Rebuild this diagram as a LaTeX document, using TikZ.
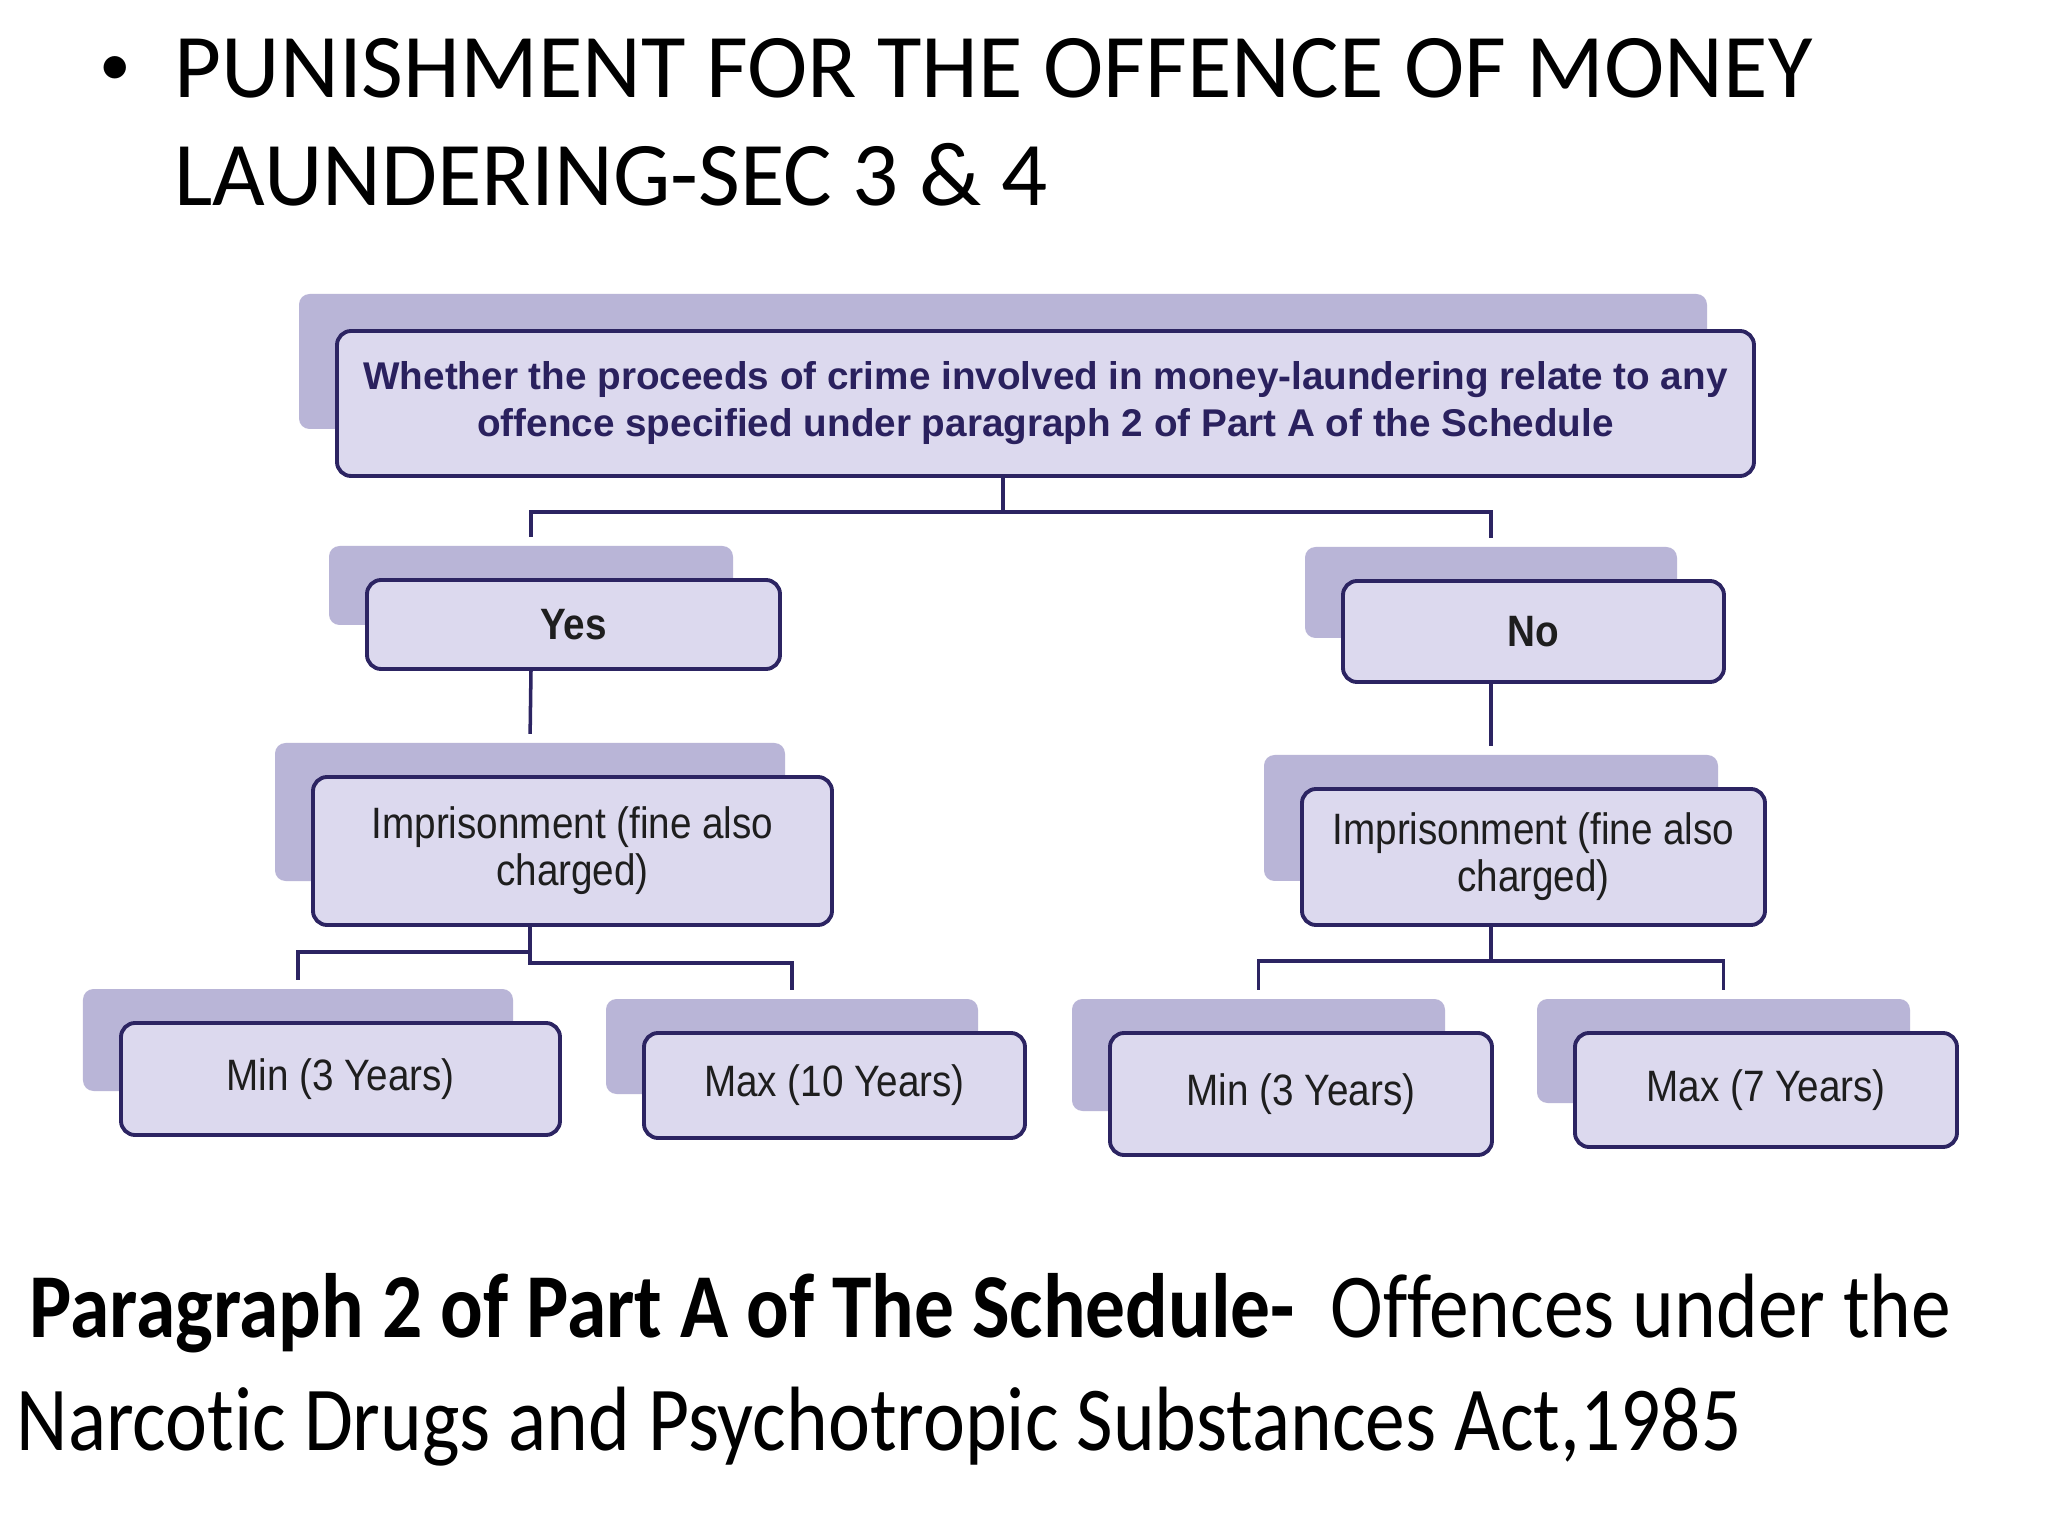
\documentclass[tikz,border=0pt]{standalone}
\usepackage{fontspec}
\setmainfont[Ligatures=NoCommon]{Carlito}
\newfontfamily\notefont[FakeStretch=0.87,Ligatures=NoCommon]{Carlito}
\newfontfamily\boxfont[FakeStretch=0.88]{Liberation Sans}
\newfontfamily\headfont{Liberation Sans}
\usetikzlibrary{calc,positioning}

\definecolor{shadowfill}{HTML}{B9B5D7}
\definecolor{boxfill}{HTML}{DCD9EE}
\definecolor{boxline}{HTML}{2C2462}
\definecolor{headtext}{HTML}{2A215E}
\definecolor{plaintext}{HTML}{1E1E1E}

\tikzset{
  back/.style={rectangle,rounded corners=3pt,fill=shadowfill,draw=none,inner sep=0pt},
  front/.style={rectangle,rounded corners=4pt,fill=boxfill,draw=boxline,line width=1.1pt,inner sep=0pt,align=center},
  link/.style={draw=boxline,line width=1pt,shorten >=0.085cm},
}

\begin{document}
\begin{tikzpicture}
  \fill[white] (0,0) rectangle (20.48,-15.36);
  \useasboundingbox (0,0) rectangle (20.48,-15.36);

  % heading
  \node (bullet) [anchor=base,inner sep=0pt,font=\fontsize{18}{22}\selectfont] at (1.15,-0.86) {\textbullet};
  \node (title_1) [anchor=base west,inner sep=0pt,font=\fontsize{25.9}{30}\selectfont] at (1.74,-0.98) {PUNISHMENT FOR THE OFFENCE OF MONEY};
  \node (title_2) [anchor=base west,inner sep=0pt,font=\fontsize{25.9}{30}\selectfont] at (1.74,-2.06) {LAUNDERING-SEC 3 \& 4};

  % question box
  \node (q_sh) [back,minimum width=14.08cm,minimum height=1.35cm] at (10.03,-3.615) {};
  \node (q) [front,minimum width=14.17cm,minimum height=1.45cm,text=headtext,font=\headfont\bfseries\fontsize{11}{13.4}\selectfont] at ($(q_sh)+(0.425,-0.42)$)
    {Whether the proceeds of crime involved in money-laundering relate to any\\offence specified under paragraph 2 of Part A of the Schedule};

  % answer boxes
  \foreach \nm/\x/\y/\w/\h/\txt in {
      yes/5.31/-5.855/4.04/0.79/{\bfseries Yes},
      no/14.91/-5.925/3.72/0.91/{\bfseries No},
      impy/5.30/-8.12/5.10/1.38/{Imprisonment (fine also\\charged)},
      impn/14.91/-8.18/4.54/1.26/{Imprisonment (fine also\\charged)},
      miny/2.98/-10.40/4.30/1.02/{Min (3 Years)},
      maxy/7.92/-10.465/3.72/0.95/{Max (10 Years)},
      minn/12.585/-10.55/3.73/1.12/{Min (3 Years)},
      maxn/17.235/-10.51/3.73/1.04/{Max (7 Years)}}
  {
    \node (\nm_sh) [back,minimum width=\w cm,minimum height=\h cm] at (\x,\y) {};
    \node (\nm) [front,minimum width=\w cm+0.09cm,minimum height=\h cm+0.1cm,text=plaintext,font=\boxfont\fontsize{12.5}{13.4}\selectfont] at ($(\nm_sh)+(0.425,-0.39)$) {\txt};
  }

  % connectors
  \draw[link] (q.south -| q_sh) -- ++(0,-0.34) -| (yes_sh.north);
  \draw[link] (q.south -| q_sh) -- ++(0,-0.34) -| (no_sh.north);
  \draw[link] (yes.south -| yes_sh) -- (impy_sh.north);
  \draw[link] (no.south -| no_sh) -- (impn_sh.north);
  \draw[link] (impy.south -| impy_sh) -- ++(0,-0.25) -| (miny_sh.north);
  \draw[link] (impy.south -| impy_sh) -- ++(0,-0.36) -| (maxy_sh.north);
  \draw[link] (impn.south -| impn_sh) -- ++(0,-0.34) -| (minn_sh.north);
  \draw[link] (impn.south -| impn_sh) -- ++(0,-0.34) -| (maxn_sh.north);

  % footnote
  \node (para_1) [anchor=base west,inner sep=0pt,font=\notefont\fontsize{26}{30}\selectfont] at (0.29,-13.37) {\textbf{Paragraph 2 of Part A of The Schedule-}\ \ Offences under the};
  \node (para_2) [anchor=base west,inner sep=0pt,font=\notefont\fontsize{26}{30}\selectfont] at (0.16,-14.50) {Narcotic Drugs and Psychotropic Substances Act,1985};
\end{tikzpicture}
\end{document}
